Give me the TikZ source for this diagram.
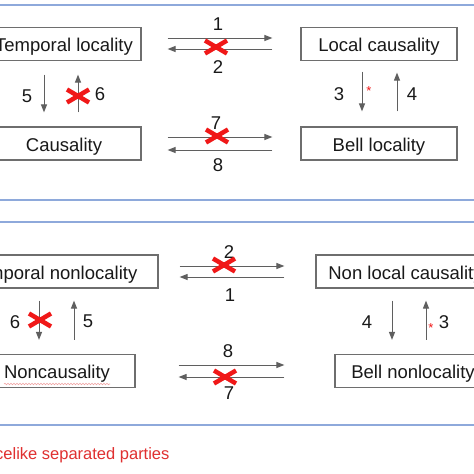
\documentclass[tikz,border=0pt]{standalone}
\usepackage{fontspec}
\setmainfont{Liberation Sans}
\usepackage{tikz}
\usetikzlibrary{arrows.meta, decorations.pathmorphing}
\definecolor{paneblue}{HTML}{8EA9DB}
\definecolor{boxgray}{HTML}{6E6E6E}
\definecolor{arrowgray}{HTML}{5F5F5F}
\definecolor{crossred}{HTML}{F01818}
\definecolor{notered}{HTML}{E03030}

\begin{document}
\begin{tikzpicture}[x=1pt, y=-1pt, every node/.style={font=\fontsize{18.5}{22}\selectfont, text=black!90},
  box/.style={draw=boxgray, line width=1.2pt, fill=white, minimum height=33pt, inner sep=0pt, text height=17pt, text depth=2pt},
  arr/.style={draw=arrowgray, line width=1pt, -{Triangle[length=8pt, width=6pt]}},
  panel/.style={draw=paneblue, line width=1.5pt},
  redx/.pic={\draw[crossred, line width=4.5pt] (-11,-6.5) -- (11,6.5) (-11,6.5) -- (11,-6.5);}]
  \useasboundingbox (0,0) rectangle (474,474);
  \fill[white] (0,0) rectangle (474,474);
  \foreach \ry in {5,200,222,425}
    \draw[panel] (0,\ry) -- (474,\ry);

  % upper panel
  \node[box, minimum width=154pt] (tl) at (64,44) {Temporal locality};
  \node[box, minimum width=156pt] (lc) at (379,44) {Local causality};
  \node[box, minimum width=154pt] (ca) at (64,143.5) {Causality};
  \node[box, minimum width=156pt] (bl) at (379,143.5) {Bell locality};

  \draw[arr, shorten <=26pt, shorten >=28pt] ([yshift=6pt]tl.east) -- ([yshift=6pt]lc.west);
  \draw[arr, shorten <=28pt, shorten >=26pt] ([yshift=-5pt]lc.west) -- ([yshift=-5pt]tl.east);
  \draw[arr, shorten <=26pt, shorten >=28pt] ([yshift=6.5pt]ca.east) -- ([yshift=6.5pt]bl.west);
  \draw[arr, shorten <=28pt, shorten >=26pt] ([yshift=-6.5pt]bl.west) -- ([yshift=-6.5pt]ca.east);
  \draw[arr, shorten <=13.5pt, shorten >=14pt] ([xshift=-20pt]tl.south) -- ([xshift=-20pt]tl.south |- ca.north);
  \draw[arr, shorten <=14pt, shorten >=13.5pt] ([xshift=14pt]tl.south |- ca.north) -- ([xshift=14pt]tl.south);
  \draw[arr, shorten <=10.5pt, shorten >=15pt] ([xshift=-17pt]lc.south) -- ([xshift=-17pt]lc.south |- bl.north);
  \draw[arr, shorten <=15pt, shorten >=11.5pt] ([xshift=18pt]lc.south |- bl.north) -- ([xshift=18pt]lc.south);

  \node (u1) at (218,24) {1};
  \node (u2) at (218,67) {2};
  \node (u7) at (216,123) {7};
  \node (u8) at (218,165) {8};
  \node (u5) at (27,96) {5};
  \node (u6) at (100,94) {6};
  \node (u3) at (339,94) {3};
  \node (u4) at (412,94) {4};
  \node[text=crossred, font=\fontsize{13}{13}\selectfont] (us) at (369,91) {*};
  \pic (ux2) at (216,47) {redx};
  \pic (ux7) at (217,136) {redx};
  \pic (ux6) at (78,96) {redx};

  % lower panel
  \node[box, minimum width=210pt] (tn) at (53,271.5) {Temporal nonlocality};
  \node[box, minimum width=179pt] (nlc) at (405.5,271.5) {Non local causality};
  \node[box, minimum width=156pt] (nc) at (57,371) {Noncausality};
  \node[box, minimum width=156pt] (bn) at (413,371) {Bell nonlocality};

  \draw[arr, shorten <=21pt, shorten >=31pt] ([yshift=5.5pt]tn.east) -- ([yshift=5.5pt]nlc.west);
  \draw[arr, shorten <=31pt, shorten >=21pt] ([yshift=-5.5pt]nlc.west) -- ([yshift=-5.5pt]tn.east);
  \draw[arr, shorten <=43pt, shorten >=50pt] ([yshift=6pt]nc.east) -- ([yshift=6pt]bn.west);
  \draw[arr, shorten <=50pt, shorten >=43pt] ([yshift=-6pt]bn.west) -- ([yshift=-6pt]nc.east);
  \draw[arr, shorten <=12pt, shorten >=14pt] ([xshift=-14pt]tn.south) -- ([xshift=-14pt]tn.south |- nc.north);
  \draw[arr, shorten <=14pt, shorten >=12pt] ([xshift=21pt]tn.south |- nc.north) -- ([xshift=21pt]tn.south);
  \draw[arr, shorten <=12pt, shorten >=14pt] ([xshift=-13.5pt]nlc.south) -- ([xshift=-13.5pt]nlc.south |- bn.north);
  \draw[arr, shorten <=14pt, shorten >=12pt] ([xshift=20.5pt]nlc.south |- bn.north) -- ([xshift=20.5pt]nlc.south);
  \draw[notered!45, line width=.6pt, decorate, decoration={snake, amplitude=.7pt, segment length=3pt}] (4,384) -- (110,384);

  \node (l2) at (229,252) {2};
  \node (l1) at (230,295) {1};
  \node (l8) at (228,351) {8};
  \node (l7) at (229,393) {7};
  \node (l6) at (15,322) {6};
  \node (l5) at (88,321) {5};
  \node (l4) at (367,322) {4};
  \node (l3) at (444,322) {3};
  \node[text=crossred, font=\fontsize{13}{13}\selectfont] (ls) at (431,328) {*};
  \pic (lx2) at (224,265) {redx};
  \pic (lx7) at (225,377) {redx};
  \pic (lx6) at (40,320) {redx};

  \node[text=notered, font=\fontsize{16.5}{20}\selectfont, anchor=east] (note) at (173,455) {Spacelike separated parties};
\end{tikzpicture}
\end{document}
